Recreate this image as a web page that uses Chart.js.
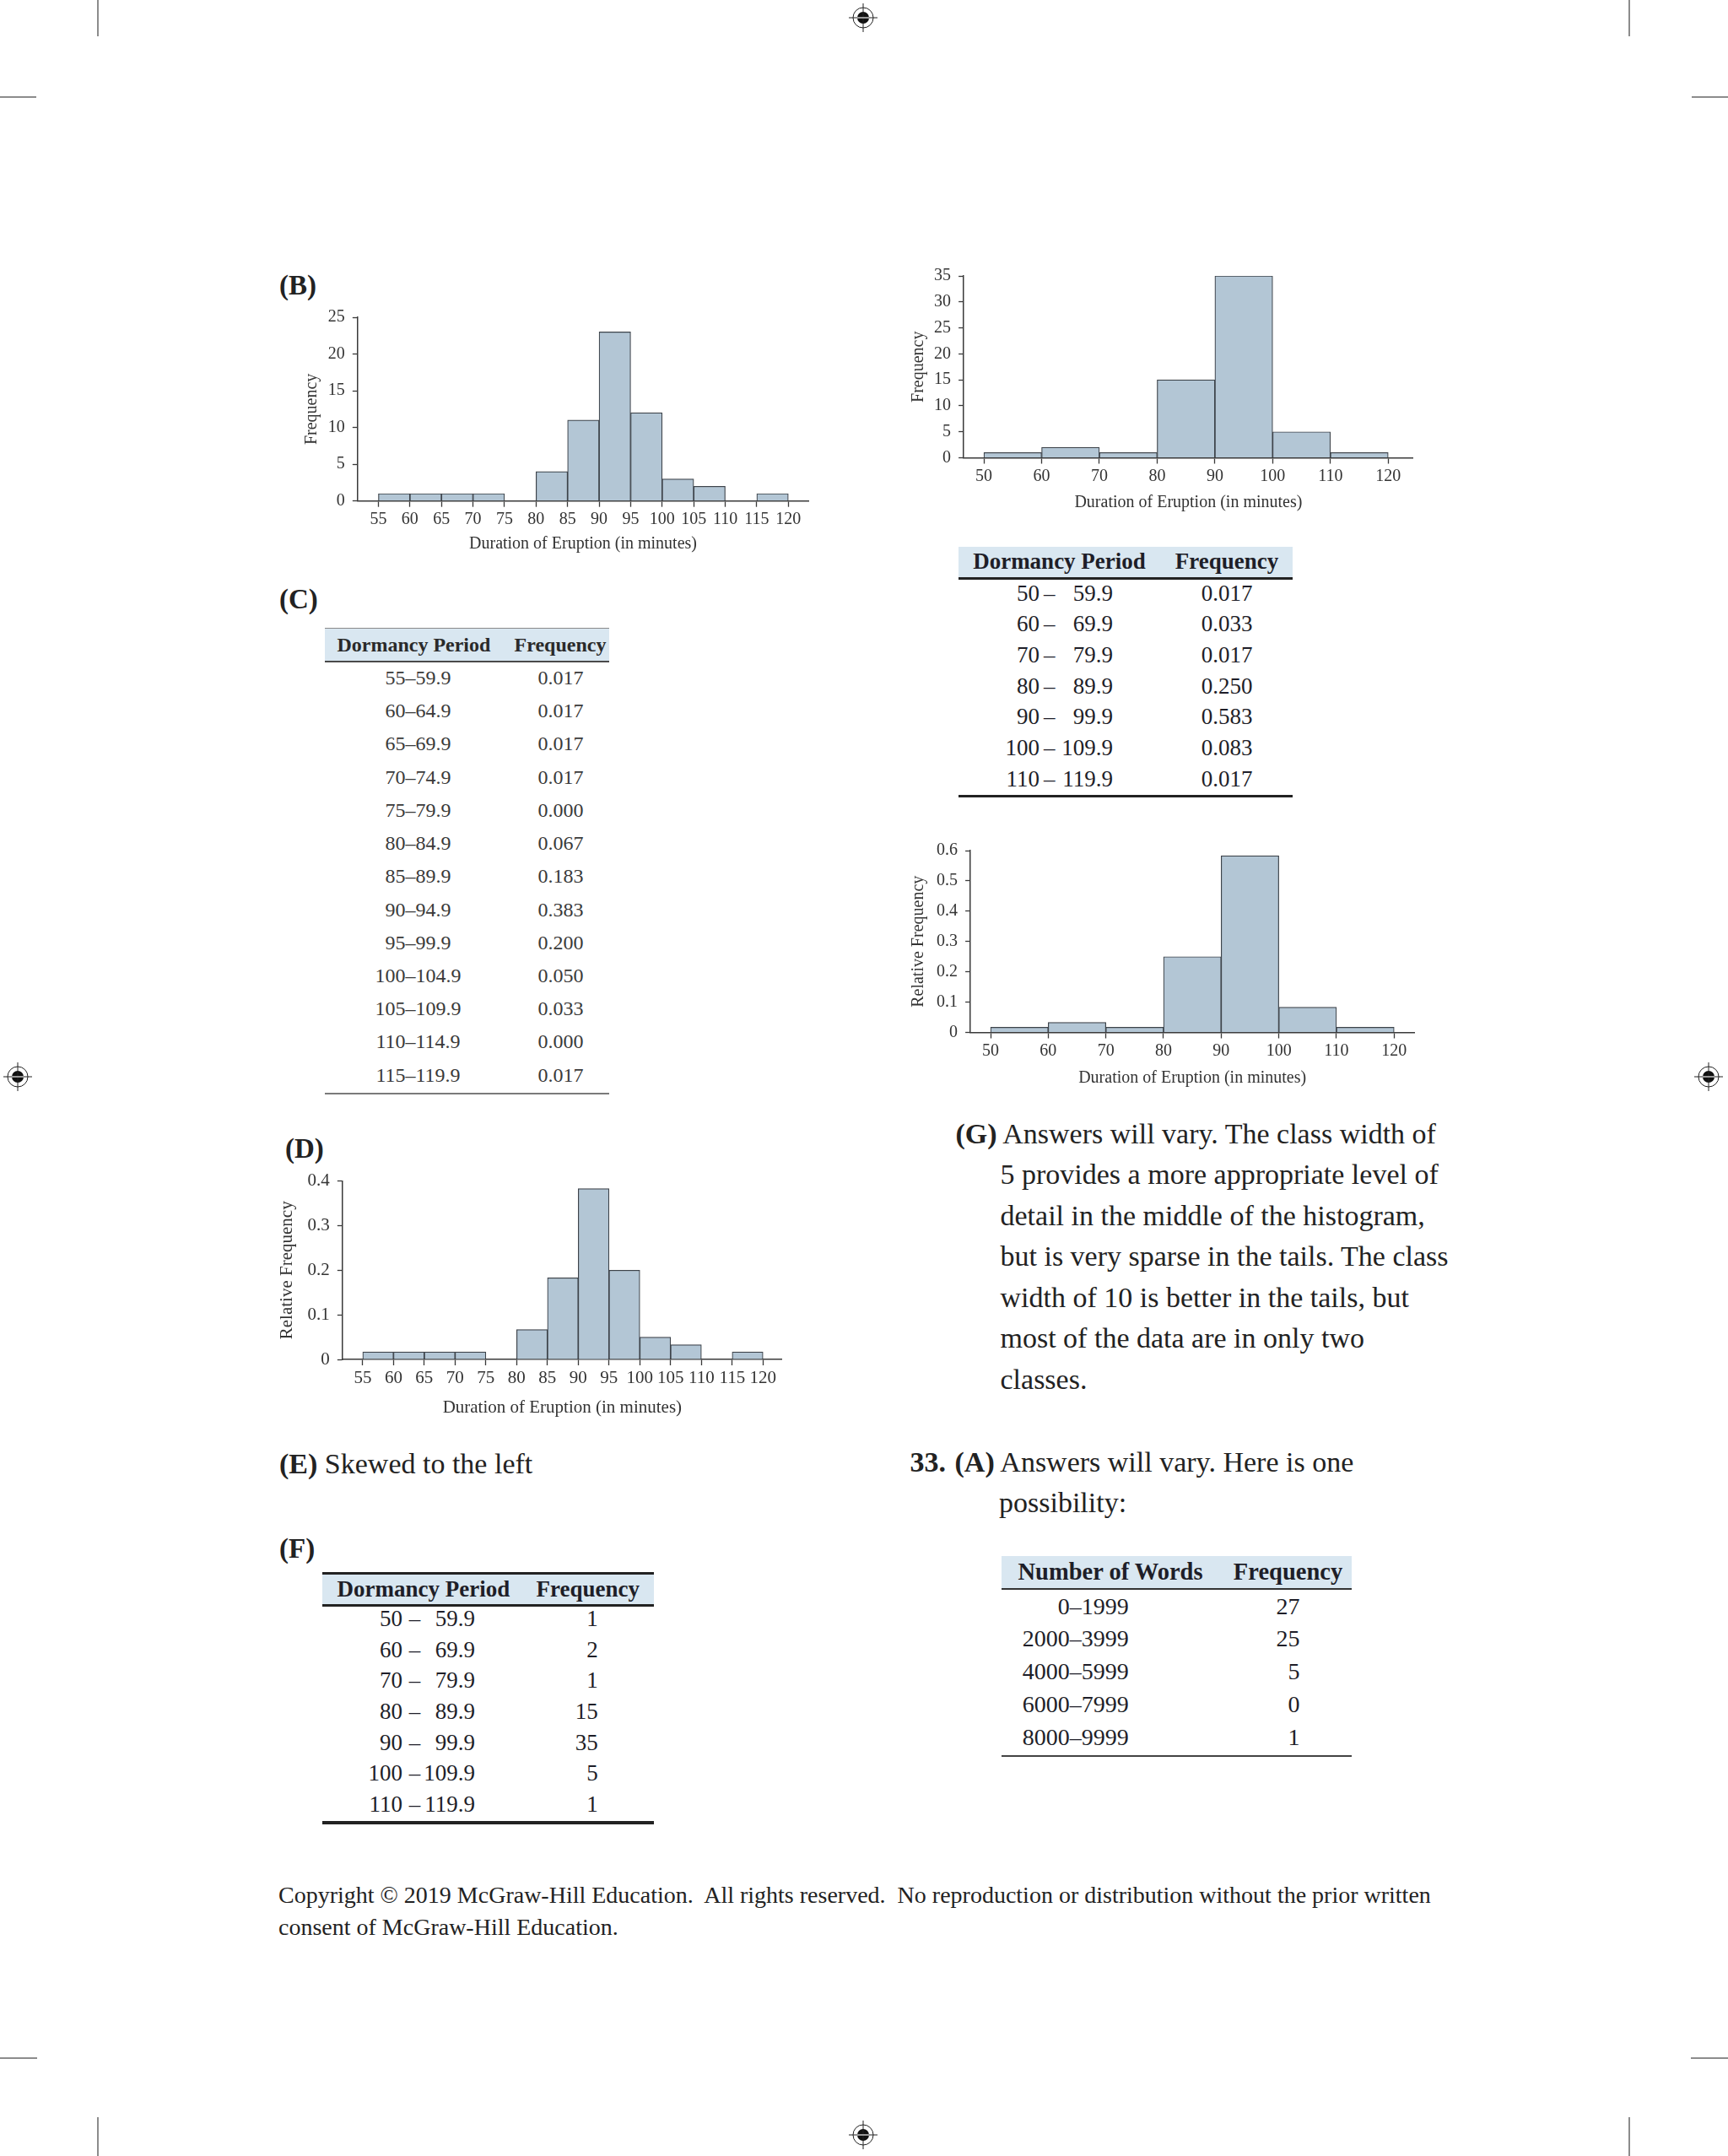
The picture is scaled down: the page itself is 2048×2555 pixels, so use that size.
<!DOCTYPE html>
<html>
<head>
<meta charset="utf-8">
<script src="https://cdn.jsdelivr.net/npm/chart.js@4.4.1/dist/chart.umd.min.js"></script>
<style>
body { margin: 0; background: #fff; }
#page { position: relative; width: 2048px; height: 2555px; overflow: hidden; background: #fff;
        font-family: "Liberation Serif", "Times New Roman", serif; color: #222; }
.t { position: absolute; white-space: pre; }
.r { position: absolute; }
canvas { position: absolute; }
svg { position: absolute; left: 0; top: 0; }
</style>
</head>
<body>
<div id="page"></div>
<script>
// class width 5 (parts B, C, D)
var binsFive = [55, 60, 65, 70, 75, 80, 85, 90, 95, 100, 105, 110, 115];
var freqFive = [1, 1, 1, 1, 0, 4, 11, 23, 12, 3, 2, 0, 1];
var relFive = [0.017, 0.017, 0.017, 0.017, 0.000, 0.067, 0.183, 0.383, 0.200, 0.050, 0.033, 0.000, 0.017];
var ticksFive = [55, 60, 65, 70, 75, 80, 85, 90, 95, 100, 105, 110, 115, 120];
var periodsFive = ["55–59.9", "60–64.9", "65–69.9", "70–74.9", "75–79.9", "80–84.9", "85–89.9",
                   "90–94.9", "95–99.9", "100–104.9", "105–109.9", "110–114.9", "115–119.9"];

// class width 10 (part F and the charts on the right)
var binsTen = [50, 60, 70, 80, 90, 100, 110];
var freqTen = [1, 2, 1, 15, 35, 5, 1];
var relTen = [0.017, 0.033, 0.017, 0.250, 0.583, 0.083, 0.017];
var ticksTen = [50, 60, 70, 80, 90, 100, 110, 120];
var periodLow = ["50", "60", "70", "80", "90", "100", "110"];
var periodHigh = ["59.9", "69.9", "79.9", "89.9", "99.9", "109.9", "119.9"];

// problem 33
var wordRanges = ["0–1999", "2000–3999", "4000–5999", "6000–7999", "8000–9999"];
var wordFreq = [27, 25, 5, 0, 1];

var page = document.getElementById('page');
var serif = "'Liberation Serif', 'Times New Roman', serif";

function put(s, x, y, size, align, bold, color) {
    var d = document.createElement('div');
    d.className = 't';
    d.innerHTML = s;
    d.style.left = x + 'px';
    d.style.top = (y - size * 0.6) + 'px';
    d.style.fontSize = size + 'px';
    d.style.lineHeight = (size * 1.2) + 'px';
    if (bold) d.style.fontWeight = 'bold';
    if (color) d.style.color = color;
    if (align === 'c') d.style.transform = 'translateX(-50%)';
    if (align === 'r') d.style.transform = 'translateX(-100%)';
    page.appendChild(d);
    return d;
}

function rect(x, y, w, h, color) {
    var d = document.createElement('div');
    d.className = 'r';
    d.style.left = x + 'px';
    d.style.top = y + 'px';
    d.style.width = w + 'px';
    d.style.height = h + 'px';
    d.style.background = color;
    page.appendChild(d);
}

function hist(o) {
    var lh = o.font * 1.2;
    var cl = Math.round(o.ytx - lh / 2);
    var ct = Math.round(o.area.t - 20);
    var W = Math.round(o.area.r + 20 - cl);
    var H = Math.round(o.xty + lh / 2 - ct);
    var wy = o.area.l - cl;
    var hx = ct + H - o.area.b;
    var c = document.createElement('canvas');
    c.width = W;
    c.height = H;
    c.style.left = cl + 'px';
    c.style.top = ct + 'px';
    page.appendChild(c);

    var axisColor = '#3a3a3a';
    var f = { family: serif, size: o.font };

    return new Chart(c, {
        type: 'bar',
        data: {
            datasets: [{
                data: o.starts.map(function (s, i) { return { x: s + o.width / 2, y: o.values[i] }; }),
                backgroundColor: '#b3c6d5',
                borderColor: '#3d434a',
                borderWidth: 1.2,
                barPercentage: 1,
                categoryPercentage: 1
            }]
        },
        options: {
            responsive: false,
            animation: false,
            layout: { padding: { left: 0, top: o.area.t - ct, right: cl + W - o.area.r, bottom: 0 } },
            plugins: { legend: { display: false }, tooltip: { enabled: false } },
            scales: {
                x: {
                    type: 'linear',
                    offset: false,
                    min: o.xmin,
                    max: o.xmax,
                    z: 1,
                    afterFit: function (s) { s.height = hx; },
                    afterBuildTicks: function (s) { s.ticks = o.ticks.map(function (v) { return { value: v }; }); },
                    grid: { offset: false, drawOnChartArea: false, tickLength: 7, tickColor: axisColor, tickWidth: 1.3 },
                    border: { color: axisColor, width: 1.5 },
                    ticks: { autoSkip: false, maxRotation: 0, padding: 3, color: '#333', font: f },
                    title: { display: true, text: 'Duration of Eruption (in minutes)', padding: 0, color: '#333', font: f }
                },
                y: {
                    min: 0,
                    max: o.ymax,
                    z: 1,
                    afterFit: function (s) { s.width = wy; },
                    grid: { drawOnChartArea: false, tickLength: 6, tickColor: axisColor, tickWidth: 1.3 },
                    border: { color: axisColor, width: 1.5 },
                    ticks: {
                        stepSize: o.ystep, padding: 9, color: '#333', font: f,
                        callback: function (v) { return String(Math.round(v * 10) / 10); }
                    },
                    title: { display: true, text: o.ytitle, padding: 0, color: '#333', font: f }
                }
            }
        }
    });
}

// ---- crop marks and registration marks
var svg = '<svg width="2048" height="2555" xmlns="http://www.w3.org/2000/svg">';
var cropLines = [[116, 0, 116, 43], [1931, 0, 1931, 43], [0, 115, 43, 115], [2005, 115, 2048, 115],
                 [0, 2439, 44, 2439], [2004, 2439, 2048, 2439], [116, 2509, 116, 2555], [1931, 2509, 1931, 2555]];
cropLines.forEach(function (l) {
    svg += '<line x1="' + l[0] + '" y1="' + l[1] + '" x2="' + l[2] + '" y2="' + l[3] + '" stroke="#666" stroke-width="1.5"/>';
});
[[1023, 21], [21, 1276], [2025, 1276], [1023, 2530]].forEach(function (p) {
    var x = p[0], y = p[1];
    svg += '<circle cx="' + x + '" cy="' + y + '" r="12" fill="none" stroke="#222" stroke-width="1"/>' +
           '<circle cx="' + x + '" cy="' + y + '" r="7" fill="#111"/>' +
           '<line x1="' + (x - 17) + '" y1="' + y + '" x2="' + (x + 17) + '" y2="' + y + '" stroke="#222" stroke-width="1"/>' +
           '<line x1="' + x + '" y1="' + (y - 17) + '" x2="' + x + '" y2="' + (y + 17) + '" stroke="#222" stroke-width="1"/>' +
           '<line x1="' + (x - 7) + '" y1="' + y + '" x2="' + (x + 7) + '" y2="' + y + '" stroke="#999" stroke-width="2"/>';
});
svg += '</svg>';
page.insertAdjacentHTML('beforeend', svg);

// ---- (B) histogram, class width 5
put('(B)', 331, 339, 33, 'l', true);
hist({ starts: binsFive, width: 5, values: freqFive, ticks: ticksFive, xmin: 51.7, xmax: 123.2,
       ymax: 25, ystep: 5, ytitle: 'Frequency', font: 20,
       area: { l: 423.8, t: 374.5, r: 958.2, b: 593.7 }, ytx: 369.5, xty: 645 });

// ---- (C) relative frequency table, class width 5
put('(C)', 331, 711, 33, 'l', true);
rect(384.5, 744, 337.5, 39.5, '#d9e7f1');
rect(384.5, 743.5, 337.5, 1, '#8a8a8a');
rect(384.5, 783, 337.5, 2, '#4a4a4a');
rect(384.5, 1294.5, 337.5, 2, '#7a7a7a');
put('Dormancy Period', 490.4, 764, 24, 'c', true, '#2a2a2a');
put('Frequency', 664, 764, 24, 'c', true, '#2a2a2a');
periodsFive.forEach(function (p, i) {
    var y = 803.3 + 39.23 * i;
    put(p, 495.5, y, 24, 'c', false, '#3a3a3a');
    put(relFive[i].toFixed(3), 664.5, y, 24, 'c', false, '#3a3a3a');
});

// ---- (D) relative frequency histogram, class width 5
put('(D)', 338, 1362, 33, 'l', true);
hist({ starts: binsFive, width: 5, values: relFive, ticks: ticksFive, xmin: 51.7, xmax: 123.1,
       ymax: 0.4, ystep: 0.1, ytitle: 'Relative Frequency', font: 21,
       area: { l: 405.8, t: 1397.7, r: 926.9, b: 1611 }, ytx: 341, xty: 1668 });

// ---- (E)
put('<b>(E)</b> Skewed to the left', 331, 1735, 34, 'l');

// ---- (F) frequency table, class width 10
put('(F)', 331, 1835.5, 33, 'l', true);
rect(382.3, 1864, 392.4, 37.7, '#d9e7f1');
rect(382.3, 1863, 392.4, 3, '#222');
rect(382.3, 1900.5, 392.4, 3, '#222');
rect(382.3, 2157.5, 392.4, 4, '#222');
put('Dormancy Period', 501.8, 1883, 27, 'c', true, '#1e1e28');
put('Frequency', 696.8, 1883, 27, 'c', true, '#1e1e28');
periodLow.forEach(function (p, i) {
    var y = 1918.3 + 36.67 * i;
    put(p, 477, y, 27, 'r', false, '#1e1e28');
    put('–', 484.7, y, 27, 'l', false, '#1e1e28');
    put(periodHigh[i], 563, y, 27, 'r', false, '#1e1e28');
    put(String(freqTen[i]), 708.7, y, 27, 'r', false, '#1e1e28');
});

// ---- top right: frequency histogram, class width 10
hist({ starts: binsTen, width: 10, values: freqTen, ticks: ticksTen, xmin: 46.5, xmax: 124.3,
       ymax: 35, ystep: 5, ytitle: 'Frequency', font: 20,
       area: { l: 1142.1, t: 326, r: 1674.7, b: 542.5 }, ytx: 1088.7, xty: 596 });

// ---- relative frequency table, class width 10
rect(1136, 648, 396, 36, '#d9e7f1');
rect(1136, 684, 396, 3, '#222');
rect(1136, 942, 396, 3, '#222');
put('Dormancy Period', 1255.5, 665, 27, 'c', true, '#1e1e28');
put('Frequency', 1454, 665, 27, 'c', true, '#1e1e28');
periodLow.forEach(function (p, i) {
    var y = 703 + 36.67 * i;
    put(p, 1232, y, 27, 'r', false, '#1e1e28');
    put('–', 1237, y, 27, 'l', false, '#1e1e28');
    put(periodHigh[i], 1319, y, 27, 'r', false, '#1e1e28');
    put(relTen[i].toFixed(3), 1454, y, 27, 'c', false, '#1e1e28');
});

// ---- relative frequency histogram, class width 10
hist({ starts: binsTen, width: 10, values: relTen, ticks: ticksTen, xmin: 46.5, xmax: 123.5,
       ymax: 0.6, ystep: 0.1, ytitle: 'Relative Frequency', font: 20,
       area: { l: 1150.1, t: 1006.5, r: 1676.2, b: 1223.5 }, ytx: 1088.6, xty: 1277.5 });

// ---- (G)
var gLines = ['<b>(G)</b> Answers will vary. The class width of',
              '5 provides a more appropriate level of',
              'detail in the middle of the histogram,',
              'but is very sparse in the tails. The class',
              'width of 10 is better in the tails, but',
              'most of the data are in only two',
              'classes.'];
gLines.forEach(function (s, i) {
    put(s, i === 0 ? 1132.5 : 1185.5, 1344 + 48.5 * i, 34, 'l');
});

// ---- 33 (A)
put('<b>33.</b>', 1078.5, 1733.3, 34, 'l');
put('<b>(A)</b> Answers will vary. Here is one', 1131.5, 1733.3, 34, 'l');
put('possibility:', 1184, 1781.7, 34, 'l');
rect(1187.3, 1844, 414.6, 39.3, '#d9e7f1');
rect(1187.3, 1882.3, 414.6, 2, '#333');
rect(1187.3, 2079.7, 414.6, 2, '#444');
put('Number of Words', 1316, 1863, 28.5, 'c', true, '#1e1e28');
put('Frequency', 1526.5, 1863, 28.5, 'c', true, '#1e1e28');
wordRanges.forEach(function (w, i) {
    var y = 1903.3 + 38.75 * i;
    put(w, 1337.8, y, 28, 'r', false, '#1e1e28');
    put(String(wordFreq[i]), 1540.5, y, 28, 'r', false, '#1e1e28');
});

// ---- footer
put('Copyright © 2019 McGraw-Hill Education.  All rights reserved.  No reproduction or distribution without the prior written',
    330, 2245.5, 28, 'l');
put('consent of McGraw-Hill Education.', 330, 2284, 28, 'l');
</script>
</body>
</html>
